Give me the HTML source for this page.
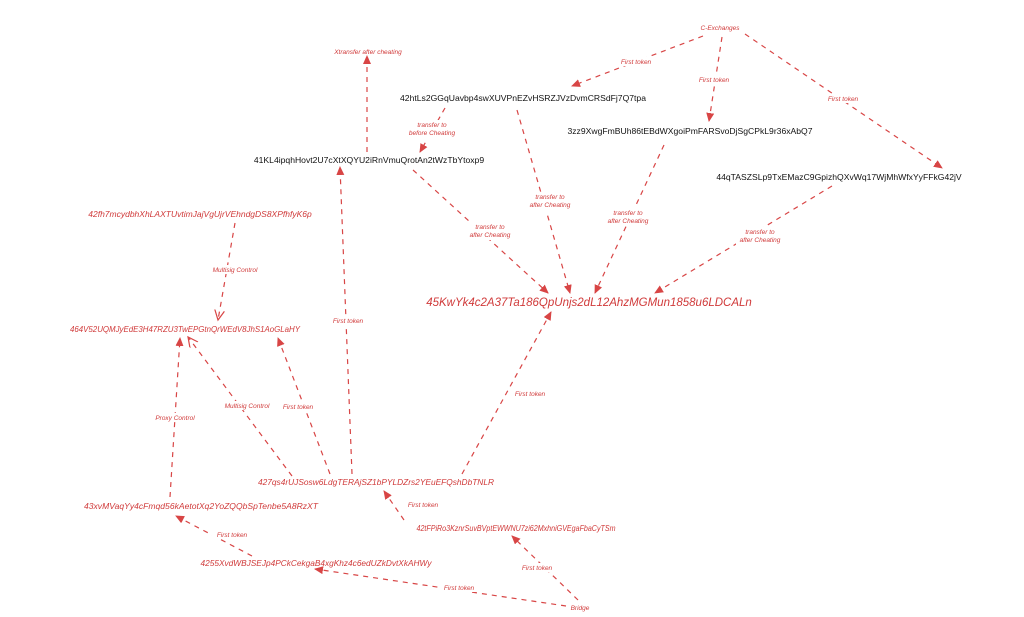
<!DOCTYPE html>
<html><head><meta charset="utf-8"><style>
html,body{margin:0;padding:0;background:#fff;width:1024px;height:617px;overflow:hidden}
svg{display:block}
.r{fill:#d03a3a;font-family:"Liberation Sans",sans-serif;font-style:italic}
.b{fill:#111;font-family:"Liberation Sans",sans-serif;font-size:8.6px}
.l{font-size:6.5px}
.n{font-size:8.5px}
line{stroke:#d84545;stroke-width:1.2;stroke-dasharray:5,5}
</style></head><body>
<svg width="1024" height="617" viewBox="0 0 1024 617">
<defs>
<marker id="a" markerWidth="10" markerHeight="10" refX="8" refY="4" orient="auto" markerUnits="userSpaceOnUse"><path d="M0,0 L9,4 L0,8 z" fill="#d84545"/></marker>
<marker id="o" markerWidth="12" markerHeight="12" refX="10" refY="5" orient="auto" markerUnits="userSpaceOnUse"><path d="M0,0 L10,5 L0,10" fill="none" stroke="#d84545" stroke-width="1.2"/></marker>
</defs>
<g>
<line x1="703" y1="36" x2="572" y2="86" marker-end="url(#a)"/>
<line x1="722" y1="37" x2="709" y2="121" marker-end="url(#a)"/>
<line x1="745" y1="34" x2="942" y2="168" marker-end="url(#a)"/>
<line x1="445" y1="108" x2="420" y2="152" marker-end="url(#a)"/>
<line x1="367" y1="152" x2="367" y2="56" marker-end="url(#a)"/>
<line x1="517" y1="110" x2="570" y2="293" marker-end="url(#a)"/>
<line x1="664" y1="145" x2="595" y2="293" marker-end="url(#a)"/>
<line x1="413" y1="170" x2="548" y2="293" marker-end="url(#a)"/>
<line x1="832" y1="186" x2="655" y2="293" marker-end="url(#a)"/>
<line x1="235" y1="223" x2="218" y2="320" marker-end="url(#o)"/>
<line x1="352" y1="474" x2="340" y2="167" marker-end="url(#a)"/>
<line x1="330" y1="474" x2="278" y2="338" marker-end="url(#a)"/>
<line x1="292" y1="476" x2="188" y2="337" marker-end="url(#o)"/>
<line x1="170" y1="497" x2="180" y2="338" marker-end="url(#a)"/>
<line x1="462" y1="474" x2="551" y2="312" marker-end="url(#a)"/>
<line x1="404" y1="520" x2="384" y2="491" marker-end="url(#a)"/>
<line x1="252" y1="556" x2="176" y2="516" marker-end="url(#a)"/>
<line x1="566" y1="606" x2="315" y2="569" marker-end="url(#a)"/>
<line x1="578" y1="600" x2="512" y2="536" marker-end="url(#a)"/>
</g>
<g class="r l" text-anchor="middle">
<rect x="616" y="57" width="40" height="9" fill="#fff"/><text x="636" y="64">First token</text>
<rect x="694" y="75" width="40" height="9" fill="#fff"/><text x="714" y="82">First token</text>
<rect x="823" y="94" width="40" height="9" fill="#fff"/><text x="843" y="101">First token</text>
<rect x="410" y="120" width="45" height="20" fill="#fff"/><text x="432" y="127">transfer to</text><text x="432" y="135">before Cheating</text>
<rect x="526" y="193" width="48" height="18" fill="#fff"/><text x="550" y="199">transfer to</text><text x="550" y="207">after Cheating</text>
<rect x="604" y="207" width="48" height="18" fill="#fff"/><text x="628" y="215">transfer to</text><text x="628" y="223">after Cheating</text>
<rect x="466" y="222" width="48" height="18" fill="#fff"/><text x="490" y="229">transfer to</text><text x="490" y="237">after Cheating</text>
<rect x="736" y="227" width="48" height="18" fill="#fff"/><text x="760" y="234">transfer to</text><text x="760" y="242">after Cheating</text>
<rect x="208" y="265" width="52" height="9" fill="#fff"/><text x="235" y="272">Multisig Control</text>
<rect x="328" y="316" width="40" height="9" fill="#fff"/><text x="348" y="323">First token</text>
<rect x="278" y="402" width="40" height="9" fill="#fff"/><text x="298" y="409">First token</text>
<rect x="221" y="401" width="52" height="9" fill="#fff"/><text x="247" y="408">Multisig Control</text>
<rect x="152" y="413" width="46" height="9" fill="#fff"/><text x="175" y="420">Proxy Control</text>
<rect x="510" y="389" width="40" height="9" fill="#fff"/><text x="530" y="396">First token</text>
<rect x="403" y="500" width="40" height="9" fill="#fff"/><text x="423" y="507">First token</text>
<rect x="212" y="530" width="40" height="9" fill="#fff"/><text x="232" y="537">First token</text>
<rect x="439" y="583" width="40" height="9" fill="#fff"/><text x="459" y="590">First token</text>
<rect x="517" y="563" width="40" height="9" fill="#fff"/><text x="537" y="570">First token</text>
</g>
<g text-anchor="middle">
<text class="r l" x="720" y="30">C-Exchanges</text>
<text class="r l" x="368" y="54">Xtransfer after cheating</text>
<text class="b" x="523" y="101">42htLs2GGqUavbp4swXUVPnEZvHSRZJVzDvmCRSdFj7Q7tpa</text>
<text class="b" x="690" y="134">3zz9XwgFmBUh86tEBdWXgoiPmFARSvoDjSgCPkL9r36xAbQ7</text>
<text class="b" x="369" y="163">41KL4ipqhHovt2U7cXtXQYU2iRnVmuQrotAn2tWzTbYtoxp9</text>
<text class="b" x="839" y="180">44qTASZSLp9TxEMazC9GpizhQXvWq17WjMhWfxYyFFkG42jV</text>
<text class="r n" x="200" y="217">42fh7mcydbhXhLAXTUvtimJajVgUjrVEhndgDS8XPfhfyK6p</text>
<text class="r" style="font-size:11.5px" x="589" y="306">45KwYk4c2A37Ta186QpUnjs2dL12AhzMGMun1858u6LDCALn</text>
<text class="r n" x="185" y="332" textLength="230" lengthAdjust="spacingAndGlyphs">464V52UQMJyEdE3H47RZU3TwEPGtnQrWEdV8JhS1AoGLaHY</text>
<text class="r n" x="376" y="485" textLength="236" lengthAdjust="spacingAndGlyphs">427qs4rUJSosw6LdgTERAjSZ1bPYLDZrs2YEuEFQshDbTNLR</text>
<text class="r n" x="201" y="509" textLength="234" lengthAdjust="spacingAndGlyphs">43xvMVaqYy4cFmqd56kAetotXq2YoZQQbSpTenbe5A8RzXT</text>
<text class="r n" x="516" y="531" textLength="199" lengthAdjust="spacingAndGlyphs">42tFPiRo3KznrSuvBVptEWWNU7zi62MxhniGVEgaFbaCyTSm</text>
<text class="r n" x="316" y="566" textLength="231" lengthAdjust="spacingAndGlyphs">4255XvdWBJSEJp4PCkCekgaB4xgKhz4c6edUZkDvtXkAHWy</text>
<text class="r l" x="580" y="610">Bridge</text>
</g>
</svg>
</body></html>
